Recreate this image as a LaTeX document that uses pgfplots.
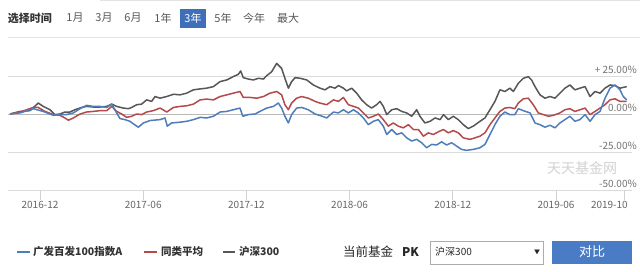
\documentclass[border=0pt]{standalone}
\usepackage{fontspec}
\setmainfont{Noto Sans CJK SC}
\usepackage{pgfplots}
\pgfplotsset{compat=1.18}
\definecolor{cblue}{HTML}{4F7DBB}
\definecolor{cred}{HTML}{B5494B}
\definecolor{cgray}{HTML}{575757}
\definecolor{btnblue}{HTML}{4A7CC6}
\definecolor{selblue}{HTML}{3F6FB8}
\newcommand{\fs}[1]{\fontsize{#1}{#1}\selectfont}
\begin{document}
\begin{tikzpicture}[x=1pt,y=1pt]
\path[use as bounding box, fill=white] (0,0) rectangle (640,272);
% top bar
\draw[gray!22, line width=0.8pt] (100,271.2) -- (640,271.2);
\draw[gray!22, line width=0.8pt] (8,235) -- (640,235);
\node[font=\fs{11}\bfseries, text=black!80] at (30,254) {选择时间};
\node[font=\fs{11}, text=black!65] at (75,254) {1月};
\node[font=\fs{11}, text=black!65] at (104,254) {3月};
\node[font=\fs{11}, text=black!65] at (133,254) {6月};
\node[font=\fs{11}, text=black!65] at (163,254) {1年};
\fill[selblue] (180,244) rectangle (206,263);
\node[font=\fs{11}, text=white] at (193,254) {3年};
\node[font=\fs{11}, text=black!65] at (223,254) {5年};
\node[font=\fs{11}, text=black!65] at (254,254) {今年};
\node[font=\fs{11}, text=black!65] at (288,254) {最大};

\begin{axis}[
  at={(8pt,82pt)}, anchor=south west,
  scale only axis, width=624pt, height=140pt,
  xmin=-1.86, xmax=34.419, ymin=-50, ymax=42.105,
  axis line style={draw=none},
  tick align=outside,
  xtick pos=bottom,
  xtick={0,6,12,18,24,30,34},
  xticklabels={2016-12,2017-06,2017-12,2018-06,2018-12,2019-06,\makebox[0pt][r]{2019-10\hspace{-3pt}}},
  major tick length=10pt,
  xtick style={draw=gray!35, line width=0.6pt},
  xticklabel style={font=\fs{10}, text=black!60, inner sep=1pt},
  ytick={-50,-25,0,25},
  yticklabels={-50.00\%,-25.00\%,0.00\%,+ 25.00\%},
  ytick style={draw=none},
  yticklabel pos=right,
  yticklabel style={anchor=base east, xshift=-5pt, yshift=2.5pt, inner sep=0pt, font=\fs{10}, text=black!55},
  ymajorgrids, grid style={gray!28, line width=0.7pt},
  extra y ticks={0}, extra y tick labels={},
  extra y tick style={grid style={gray!55, line width=0.8pt}},
  every axis plot/.append style={line width=1.5pt, line join=round},
]
\addplot[cgray] coordinates {(-1.74,0) (-1.16,1.7) (-0.58,2.2) (-0.10,7.2) (0.19,5.0) (0.58,2.8) (0.87,-0.4) (1.16,0) (1.45,1.3) (1.74,1.3) (2.03,2.8) (2.42,4.3) (2.71,5.0) (3.10,4.6) (3.49,4.6) (3.88,5.0) (4.17,6.5) (4.46,5.0) (4.84,3.9) (5.14,3.5) (5.33,4.3) (5.62,6.1) (5.91,6.5) (6.20,9.3) (6.49,8.3) (6.69,11.5) (6.98,10.4) (7.37,11.5) (7.76,13.0) (8.14,12.6) (8.53,13.7) (8.92,15.9) (9.31,16.5) (9.69,17.0) (10.08,18.0) (10.47,21.3) (10.86,22.4) (11.24,24.6) (11.53,26.1) (11.67,28.3) (11.82,23.9) (12.11,23.0) (12.40,22.4) (12.70,23.5) (12.99,23.0) (13.18,25.2) (13.47,27.8) (13.76,33.3) (14.05,30.0) (14.24,23.5) (14.44,17.0) (14.63,21.3) (14.83,23.9) (15.12,23.5) (15.51,22.4) (15.89,19.1) (16.28,17.0) (16.57,15.9) (16.86,18.0) (17.15,17.0) (17.35,18.7) (17.64,17.0) (17.83,15.2) (18.12,17.0) (18.41,13.7) (18.70,9.3) (18.99,6.1) (19.28,3.9) (19.57,6.1) (19.77,8.3) (19.96,5.0) (20.16,-0.4) (20.45,2.8) (20.74,3.5) (21.03,1.7) (21.32,0.7) (21.61,-1.5) (21.90,2.8) (22.09,-1.5) (22.38,-5.9) (22.68,-4.8) (22.97,-2.6) (23.26,-3.7) (23.46,-0.4) (23.74,-3.7) (24.03,-1.5) (24.32,-3.7) (24.61,-7.0) (24.90,-9.6) (25.19,-8.0) (25.58,-4.8) (25.87,-2.6) (26.16,2.8) (26.45,8.3) (26.74,15.9) (27.03,14.8) (27.32,17.0) (27.52,14.8) (27.81,20.2) (28.10,23.5) (28.39,24.6) (28.58,22.4) (28.78,18.0) (29.07,12.6) (29.36,10.4) (29.65,11.5) (29.94,10.4) (30.23,13.7) (30.52,17.0) (30.81,19.1) (31.10,15.9) (31.39,17.0) (31.69,18.0) (31.98,11.5) (32.27,14.8) (32.56,13.7) (32.85,17.0) (33.14,19.1) (33.43,18.7) (33.72,17.0) (34.11,18.0)};
\addplot[cred] coordinates {(-1.74,0) (-1.16,1.3) (-0.39,4.3) (-0.10,4.3) (0.29,1.7) (0.78,-0.4) (1.16,-0.9) (1.45,-2.6) (1.65,-4.1) (1.94,-2.6) (2.33,0) (2.71,1.3) (3.10,1.7) (3.49,2.2) (3.88,2.2) (4.17,5.0) (4.46,1.7) (4.75,0) (5.04,-2.2) (5.33,-1.5) (5.62,0) (5.91,-0.4) (6.20,1.3) (6.59,2.2) (6.98,3.9) (7.37,1.3) (7.76,4.3) (8.14,5.0) (8.53,5.4) (8.92,6.5) (9.31,9.3) (9.69,9.8) (10.08,9.3) (10.47,11.5) (10.86,12.6) (11.24,13.7) (11.63,14.8) (11.82,10.9) (12.21,10.9) (12.60,10.4) (12.99,11.5) (13.37,13.7) (13.76,14.8) (14.05,12.6) (14.24,6.1) (14.44,2.8) (14.63,7.2) (14.92,10.4) (15.21,11.5) (15.60,10.4) (15.99,8.3) (16.28,7.2) (16.67,6.1) (17.06,9.3) (17.35,8.3) (17.64,10.9) (17.93,6.1) (18.22,5.0) (18.51,3.9) (18.80,0.7) (19.09,-2.6) (19.38,-1.5) (19.67,0) (19.96,-3.7) (20.25,-8.0) (20.54,-5.9) (20.83,-8.0) (21.12,-9.1) (21.42,-7.0) (21.71,-10.2) (22.00,-10.2) (22.29,-14.6) (22.58,-12.4) (22.87,-13.5) (23.16,-11.7) (23.45,-10.2) (23.74,-12.4) (24.03,-10.9) (24.32,-12.4) (24.61,-15.7) (25.00,-16.7) (25.29,-15.7) (25.58,-14.6) (25.87,-12.4) (26.16,-7.0) (26.45,-2.6) (26.74,1.7) (27.03,3.9) (27.32,4.3) (27.61,3.5) (27.81,7.2) (28.10,10.0) (28.39,10.4) (28.68,6.1) (28.97,0.7) (29.26,-0.4) (29.55,-1.5) (29.84,-0.9) (30.23,0.7) (30.52,2.8) (30.81,3.5) (31.10,1.7) (31.39,2.8) (31.69,3.9) (31.98,-0.4) (32.27,1.7) (32.56,3.9) (32.85,6.1) (33.14,9.3) (33.43,10.0) (33.72,8.3) (34.11,8.3)};
\addplot[cblue] coordinates {(-1.74,0) (-1.16,0.7) (-0.39,3.5) (0.19,1.7) (0.78,-0.9) (1.16,-0.4) (1.55,-0.4) (1.94,0.7) (2.33,3.5) (2.71,5.7) (3.10,5.0) (3.49,5.0) (3.88,4.3) (4.17,6.5) (4.46,0.7) (4.65,-3.0) (4.94,-3.7) (5.23,-4.8) (5.43,-6.5) (5.72,-8.7) (6.01,-5.9) (6.40,-4.3) (6.98,-3.7) (7.27,-2.6) (7.40,-8.0) (7.65,-5.9) (8.14,-5.4) (8.53,-4.8) (8.92,-3.7) (9.31,-2.2) (9.69,-2.6) (10.08,-1.5) (10.47,1.3) (10.86,1.7) (11.24,2.8) (11.63,3.9) (11.79,-1.5) (12.11,-0.4) (12.50,0) (12.79,1.7) (13.18,3.9) (13.57,5.0) (13.86,7.2) (14.05,3.9) (14.24,-1.5) (14.44,-5.9) (14.63,-0.4) (14.92,3.9) (15.21,4.3) (15.60,2.8) (15.99,0) (16.28,-1.0) (16.67,-2.6) (17.06,1.3) (17.35,0.7) (17.64,2.8) (17.93,0.7) (18.22,2.8) (18.51,0.7) (18.80,-2.6) (19.09,-7.0) (19.38,-4.8) (19.67,-3.7) (19.96,-8.0) (20.16,-13.5) (20.45,-10.2) (20.74,-13.5) (21.03,-12.4) (21.32,-15.7) (21.61,-17.8) (21.90,-16.7) (22.19,-18.9) (22.48,-22.2) (22.77,-20.0) (23.06,-20.4) (23.35,-18.3) (23.64,-20.4) (23.93,-18.9) (24.22,-21.1) (24.51,-23.3) (24.80,-23.9) (25.19,-23.3) (25.58,-22.2) (25.87,-20.0) (26.16,-13.5) (26.45,-7.0) (26.74,-1.5) (27.03,1.3) (27.32,-0.4) (27.61,-0.4) (27.81,3.5) (28.10,2.2) (28.49,0.7) (28.78,-5.9) (29.07,-7.0) (29.36,-8.7) (29.65,-7.4) (29.94,-9.1) (30.23,-5.9) (30.52,-3.7) (30.81,-1.5) (31.10,-4.8) (31.39,-3.7) (31.69,-0.4) (31.98,-4.8) (32.27,-0.4) (32.56,1.7) (32.85,10.4) (33.14,17.0) (33.43,19.1) (33.72,15.9) (33.91,11.5) (34.11,9.3)};
\end{axis}

\node[font=\fs{14}, text=gray!35] at (582,104) {天天基金网};

% legend
\draw[cblue, line width=1.5pt] (17,20) -- (30,20);
\node[font=\fs{10.5}\bfseries, text=black!80, anchor=west, inner sep=0pt] at (33,20) {广发百发100指数A};
\draw[cred, line width=1.5pt] (144,20) -- (157,20);
\node[font=\fs{10.5}\bfseries, text=black!80, anchor=west, inner sep=0pt] at (161,20) {同类平均};
\draw[cgray, line width=1.5pt] (223,20) -- (235,20);
\node[font=\fs{10.5}\bfseries, text=black!80, anchor=west, inner sep=0pt] at (239,20) {沪深300};

% bottom right controls
\node[font=\fs{12.5}, text=black!85, anchor=west, inner sep=0pt] at (343,20) {当前基金};
\node[font=\fs{12}\bfseries, text=black!85, anchor=west, inner sep=0pt] at (402,20) {PK};
\draw[gray!65, fill=white, line width=0.7pt] (430,8) rectangle (543,31);
\node[font=\fs{10}, text=black!85, anchor=west, inner sep=0pt] at (435,20) {沪深300};
\node[font=\fs{6}, text=black!85] at (537,20) {▼};
\fill[btnblue] (552,8) rectangle (632,31);
\node[font=\fs{13}, text=white] at (592,20) {对比};
\end{tikzpicture}
\end{document}
